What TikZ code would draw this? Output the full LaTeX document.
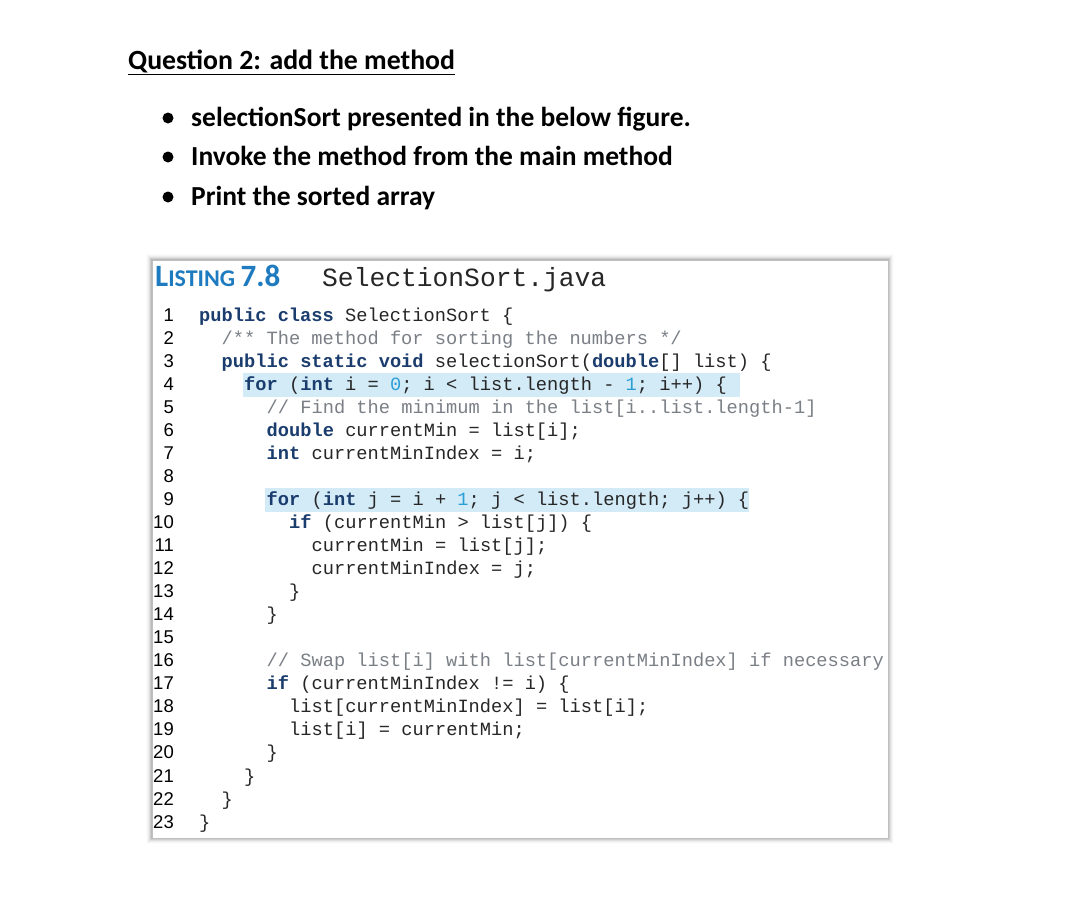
\documentclass[tikz,border=0pt]{standalone}
\usepackage{fontspec}
\setmainfont{Carlito}
\setmonofont{Liberation Mono}
\newfontfamily\numfont{Liberation Sans}
\definecolor{kwc}{HTML}{1B3D6E}
\definecolor{cmc}{HTML}{7A7F86}
\definecolor{nmc}{HTML}{2A9FD6}
\definecolor{hdc}{HTML}{1E7BBF}
\definecolor{hlc}{HTML}{D3EAF7}
\newcommand{\kw}[1]{\textbf{\color{kwc}#1}}
\newcommand{\cm}[1]{{\color{cmc}#1}}
\newcommand{\nm}[1]{{\color{nmc}#1}}
\tikzset{
  codeln/.style={anchor=base west,inner sep=0,font=\ttfamily\fontsize{18.7}{20}\selectfont,text=black!85},
  lnum/.style={anchor=base east,inner sep=0,font=\numfont\fontsize{18.5}{20}\selectfont},
  bul/.style={anchor=base west,inner sep=0,font=\bfseries\fontsize{27.5}{30}\selectfont},
}
\begin{document}
\begin{tikzpicture}[x=1pt,y=-1pt]
\useasboundingbox (0,0) rectangle (1080,922);
\fill[white] (0,0) rectangle (1080,922);
% title
\node[anchor=base west,inner sep=0,font=\bfseries\fontsize{27.8}{30}\selectfont] (title) at (128,69) {\underline{Question 2: add the method}};
\foreach \y/\t [count=\k] in {126/selectionSort presented in the below figure.,165/Invoke the method from the main method,205/Print the sorted array}{
  \fill (168,\y-8) circle (5.5);
  \node[bul] (b\k) at (191,\y) {\t};
}
% listing box with shadow
\foreach \i/\o in {6/8,5/14,4/22,3/32,2/45,1/60}{\fill[black,opacity=\o/600] (152-\i,260-\i) rectangle (888+\i,838+\i);}
\filldraw[fill=white,draw=black!25] (152,260) rectangle (888,838);
\fill[hlc] (243,373) rectangle (740,397);
\fill[hlc] (265,488) rectangle (749,512);
\node[anchor=base west,inner sep=0,text=hdc,font=\bfseries\fontsize{31}{34}\selectfont] (hd) at (155,286) {L\fontsize{24}{28}\selectfont ISTING \fontsize{31}{34}\selectfont 7.8};
\node[anchor=base west,inner sep=0,font=\ttfamily\fontsize{26.3}{30}\selectfont,text=black!85] (fn) at (322,286) {SelectionSort.java};
\def\cw{11.25}
\foreach \n/\ind/\t in {
1/0/{\kw{public} \kw{class} SelectionSort \{},
2/2/{\cm{/** The method for sorting the numbers */}},
3/2/{\kw{public} \kw{static} \kw{void} selectionSort(\kw{double}[] list) \{},
4/4/{\kw{for} (\kw{int} i = \nm{0}; i < list.length - \nm{1}; i++) \{},
5/6/{\cm{// Find the minimum in the list[i..list.length-1]}},
6/6/{\kw{double} currentMin = list[i];},
7/6/{\kw{int} currentMinIndex = i;},
8/0/{},
9/6/{\kw{for} (\kw{int} j = i + \nm{1}; j < list.length; j++) \{},
10/8/{\kw{if} (currentMin > list[j]) \{},
11/10/{currentMin = list[j];},
12/10/{currentMinIndex = j;},
13/8/{\}},
14/6/{\}},
15/0/{},
16/6/{\cm{// Swap list[i] with list[currentMinIndex] if necessary}},
17/6/{\kw{if} (currentMinIndex != i) \{},
18/8/{list[currentMinIndex] = list[i];},
19/8/{list[i] = currentMin;},
20/6/{\}},
21/4/{\}},
22/2/{\}},
23/0/{\}}}{
  \node[lnum] (n\n) at (174,321+23.05*\n-23.05) {\n};
  \node[codeln] (c\n) at (199+\ind*\cw,321+23.05*\n-23.05) {\t};
}
\end{tikzpicture}
\end{document}
